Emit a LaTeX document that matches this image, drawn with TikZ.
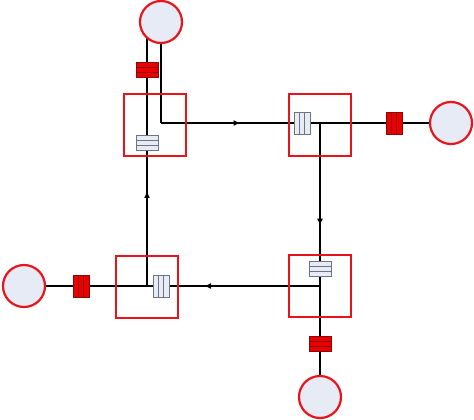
\documentclass[tikz,border=0pt]{standalone}
\usetikzlibrary{backgrounds,arrows.meta,calc}
\definecolor{bred}{HTML}{E8141B}
\definecolor{cfill}{HTML}{E6EBF5}
\definecolor{dred}{HTML}{8A0A0A}
\definecolor{gline}{HTML}{6E7480}
\begin{document}
\begin{tikzpicture}[x=1pt,y=-1pt,
  port/.style={circle,draw=bred,fill=cfill,line width=2.2pt,minimum size=42pt,inner sep=0pt},
  unit/.style={rectangle,draw=bred,line width=2pt,minimum size=62pt,inner sep=0pt},
  hstripes/.style={path picture={\foreach \f in {0.333,0.667}{\draw[line width=0.8pt,#1] ($(path picture bounding box.north west)!\f!(path picture bounding box.south west)$) -- ++(40,0);}}},
  vstripes/.style={path picture={\foreach \f in {0.333,0.667}{\draw[line width=0.8pt,#1] ($(path picture bounding box.north west)!\f!(path picture bounding box.north east)$) -- ++(0,40);}}},
  redh/.style={rectangle,fill=red!92!black,draw=dred,line width=0.9pt,minimum width=22pt,minimum height=15pt,inner sep=0pt,hstripes=dred},
  redv/.style={rectangle,fill=red!92!black,draw=dred,line width=0.9pt,minimum width=16pt,minimum height=22pt,inner sep=0pt,vstripes=dred},
  greyh/.style={rectangle,fill=cfill,draw=gline,line width=0.9pt,minimum width=22pt,minimum height=15pt,inner sep=0pt,hstripes=gline},
  greyv/.style={rectangle,fill=cfill,draw=gline,line width=0.9pt,minimum width=16pt,minimum height=22pt,inner sep=0pt,vstripes=gline},
  wire/.style={draw=black,line width=2.2pt},
  tip/.style={wire,-{Latex[length=7pt,width=6pt]}}
]
\useasboundingbox (0,0) rectangle (474,420);
% ports
\node[port] (cT) at (161,22) {};
\node[port] (cR) at (451,123) {};
\node[port] (cL) at (24,286) {};
\node[port] (cB) at (320,397) {};
% units
\node[unit] (bTL) at (155,125) {};
\node[unit] (bTR) at (320,125) {};
\node[unit] (bBL) at (147,287) {};
\node[unit] (bBR) at (320,286) {};
% components
\node[redh] (rT) at (147,69.5) {};
\node[redh] (rB) at (320,344) {};
\node[redv] (rR) at (394,123) {};
\node[redv] (rL) at (81,286) {};
\node[greyh] (gTL) at (147,142.5) {};
\node[greyh] (gBR) at (320,268.5) {};
\node[greyv] (gTR) at (302,123) {};
\node[greyv] (gBL) at (161,286) {};
% junctions
\coordinate (kTL) at (161,123);
\coordinate (jTR) at (320,123);
\coordinate (jBR) at (320,286);
\coordinate (jBL) at (147,286);
\coordinate (kT) at (147,22);
\begin{scope}[on background layer]
\draw[wire] (cT.center) -- (kTL);
\draw[wire] (kTL) -- (jTR);
\draw[wire] (jTR) -- (jBR);
\draw[wire] (jBR) -- (jBL);
\draw[wire] (jBL) -- (kT);
\draw[tip] (kTL) -- ($(kTL)!0.5!(jTR)$);
\draw[tip] (jTR) -- ($(jTR)!0.63!(jBR)$);
\draw[tip] (jBR) -- ($(jBR)!0.67!(jBL)$);
\draw[tip] (jBL) -- ($(jBL)!0.36!(kT)$);
\draw[wire] (jTR) -- (cR.center);
\draw[wire] (jBR) -- (cB.center);
\draw[wire] (jBL) -- (cL.center);
\end{scope}
\end{tikzpicture}
\end{document}
